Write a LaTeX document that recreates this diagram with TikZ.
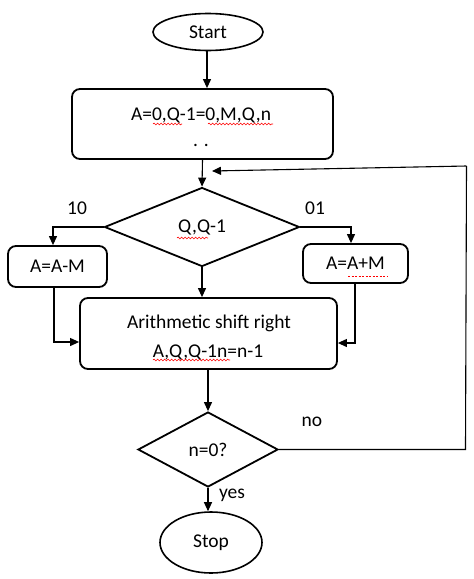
\documentclass[tikz,border=0pt]{standalone}
\usepackage{fontspec}
\setmainfont{Carlito}
\usetikzlibrary{shapes.geometric,arrows.meta,decorations.pathmorphing}
\begin{document}
\begin{tikzpicture}[x=1pt,y=-1pt,
  every node/.style={font=\fontsize{19.5}{22}\selectfont},
  term/.style={draw,ellipse,line width=1.6pt,inner sep=0pt},
  box/.style={draw,rectangle,rounded corners=8pt,line width=1.8pt,inner sep=0pt},
  dec/.style={draw,diamond,line width=1.8pt,inner sep=0pt,aspect=2.5},
  txt/.style={inner sep=0pt},
  conn/.style={line width=1.1pt,-{Triangle[length=9pt,width=8pt]}},
  plain/.style={line width=1.1pt},
  squig/.style={red,line width=0.6pt,decorate,decoration={snake,amplitude=0.9pt,segment length=3.5pt}}]
\useasboundingbox (0,0) rectangle (474,579);
\node[term,minimum width=110pt,minimum height=37pt] (start) at (208,32) {Start};
\node[box,minimum width=261pt,minimum height=70pt] (init) at (202.5,124) {};
\node[txt] (initA) at (201,115) {A=0,Q-1=0,M,Q,n};
\node[txt] (initB) at (201,145) {. .};
\node[dec,minimum width=195pt,minimum height=79pt] (q) at (202,227) {Q,Q-1};
\node[box,minimum width=99pt,minimum height=41pt] (aam) at (57.5,266.5) {A=A-M};
\node[box,minimum width=105pt,minimum height=39pt] (apm) at (355.5,263.5) {A=A+M};
\node[box,minimum width=257pt,minimum height=71pt] (shift) at (208.5,333.5) {};
\node[txt] (shiftA) at (209,323) {Arithmetic shift right};
\node[txt] (shiftB) at (208,352) {A,Q,Q-1n=n-1};
\node[dec,minimum width=140pt,minimum height=75pt] (n) at (208,449.5) {n=0?};
\node[term,minimum width=102pt,minimum height=61pt] (stop) at (211,542.5) {Stop};
\node[txt] (l10) at (77,208) {10};
\node[txt] (l01) at (315,208) {01};
\node[txt] (lno) at (312,422) {no};
\node[txt] (lyes) at (232,495) {yes};
\coordinate (loopA) at (465.5,449.5);
\coordinate (loopB) at (466.5,166);
\coordinate (loopEnd) at (212,171);
\draw[conn] ([xshift=-1pt]start.south) -- ([xshift=-1pt]start.south |- init.north);
\draw[conn] (init.south) -- (q.north);
\draw[conn] (q.west) -| ([xshift=-4.5pt]aam.north);
\draw[conn] (q.east) -| ([xshift=-4.5pt]apm.north);
\draw[conn] (q.south) -- (q.south |- shift.north);
\draw[conn] ([xshift=-3.5pt]aam.south) |- ([yshift=-8.5pt]shift.west);
\draw[conn] ([xshift=-0.5pt]apm.south) |- ([yshift=-9.5pt]shift.east);
\draw[conn] (shift.south -| n.north) -- (n.north);
\draw[conn] (n.south) -- (n.south |- stop.north);
\draw[plain] (n.east) -- (loopA) -- (loopB);
\draw[conn] (loopB) -- (loopEnd);
\draw[squig] (153,124) -- (182,124);
\draw[squig] (208,124) -- (273,124);
\draw[squig] (177,238) -- (208,238);
\draw[red,line width=0.6pt,dash pattern=on 2pt off 1.5pt] (348,276) -- (388,276);
\draw[squig] (153,360) -- (230,360);
\end{tikzpicture}
\end{document}
